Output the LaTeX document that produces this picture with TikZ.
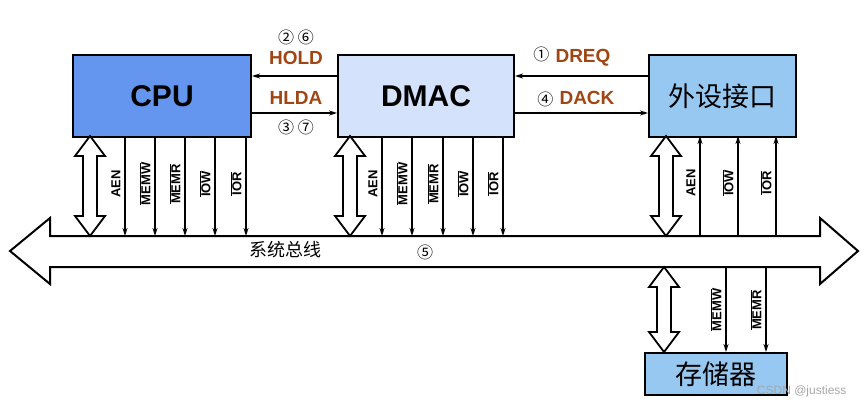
\documentclass[tikz,border=0pt]{standalone}
\usepackage{fontspec}
\setmainfont{Liberation Sans}
\newfontfamily\cjk{Noto Sans CJK SC}
\usetikzlibrary{arrows.meta}
\definecolor{cpuc}{RGB}{100,150,240}
\definecolor{dmac}{RGB}{212,226,252}
\definecolor{perc}{RGB}{150,200,242}
\definecolor{brn}{RGB}{160,70,20}
\newcommand{\dblarrow}[3]{%
 \draw[line width=1.8pt,fill=white,line join=miter] (#1,#2) -- (#1+15,#2+20) -- (#1+7,#2+20) -- (#1+7,#3-20) -- (#1+15,#3-20) -- (#1,#3) -- (#1-15,#3-20) -- (#1-7,#3-20) -- (#1-7,#2+20) -- (#1-15,#2+20) -- cycle;}
\begin{document}
\begin{tikzpicture}[x=1pt,y=-1pt,
 box/.style={draw,line width=2pt,anchor=north west,inner sep=0pt},
 sig/.style={line width=1.5pt,-{Stealth[length=8pt,width=5pt]}},
 sl/.style={rotate=90,font=\bfseries\fontsize{13}{13}\selectfont,anchor=south},
 bl/.style={text=brn,font=\bfseries\fontsize{19}{19}\selectfont},
 num/.style={font=\cjk\fontsize{16}{16}\selectfont}]
\useasboundingbox (0,0) rectangle (864,409);
\node[box,fill=cpuc,minimum width=178pt,minimum height=82pt,font=\bfseries\fontsize{30}{30}\selectfont] (cpu) at (72,54) {CPU};
\node[box,fill=dmac,minimum width=176pt,minimum height=82pt,font=\bfseries\fontsize{30}{30}\selectfont] (dmac) at (337,54) {DMAC};
\node[box,fill=perc,minimum width=147pt,minimum height=82pt,font=\cjk\fontsize{27}{27}\selectfont] (per) at (648,54) {外设接口};
\node[box,fill=perc,minimum width=142pt,minimum height=42pt,font=\cjk\fontsize{27}{27}\selectfont] (mem) at (644,352) {存储器};
% bus
\draw[line width=2pt,fill=white] (10,251) -- (50,218) -- (50,236) -- (820,236) -- (820,218) -- (858,251) -- (820,284) -- (820,267) -- (50,267) -- (50,284) -- cycle;
\node[font=\cjk\fontsize{18}{18}\selectfont] (bus) at (285,250) {系统总线};
\node[num] (n5) at (425,252) {⑤};
% handshake
\draw[sig] (dmac.west|-0,76) -- (cpu.east|-0,76);
\draw[sig] (cpu.east|-0,113) -- (dmac.west|-0,113);
\draw[sig] (per.west|-0,76) -- (dmac.east|-0,76);
\draw[sig] (dmac.east|-0,113) -- (per.west|-0,113);
\node[num] (n26) at (296,37) {② ⑥};
\node[bl] (hold) at (296,58) {HOLD};
\node[bl] (hlda) at (296,98) {HLDA};
\node[num] (n37) at (296,127) {③ ⑦};
\node[num,anchor=east] (n1) at (553,54) {①};
\node[bl,anchor=west] (dreq) at (552,58) {DREQ};
\node[num,anchor=east] (n4) at (557,99) {④};
\node[bl,anchor=west] (dack) at (556,98) {DACK};
% CPU lines
\dblarrow{90}{136}{236}
\foreach \x/\t in {125/AEN,155/$\overline{\mbox{MEMW}}$,185/$\overline{\mbox{MEMR}}$,215/$\overline{\mbox{IOW}}$,246/$\overline{\mbox{IOR}}$}{
 \draw[sig] (\x,136) -- (\x,236);
 \node[sl] at (\x-1,184) {\t};}
\dblarrow{350}{136}{236}
\foreach \x/\t in {382/AEN,412/$\overline{\mbox{MEMW}}$,443/$\overline{\mbox{MEMR}}$,473/$\overline{\mbox{IOW}}$,503/$\overline{\mbox{IOR}}$}{
 \draw[sig] (\x,136) -- (\x,236);
 \node[sl] at (\x-1,184) {\t};}
\dblarrow{666}{136}{236}
\foreach \x/\t in {700/AEN,738/$\overline{\mbox{IOW}}$,776/$\overline{\mbox{IOR}}$}{
 \draw[sig] (\x,236) -- (\x,136);
 \node[sl] at (\x-1,183) {\t};}
\dblarrow{664}{267}{352}
\foreach \x/\t in {726/$\overline{\mbox{MEMW}}$,766/$\overline{\mbox{MEMR}}$}{
 \draw[sig] (\x,267) -- (\x,352);
 \node[sl] at (\x-1,310) {\t};}
\node[text=gray!70,font=\fontsize{12}{12}\selectfont,anchor=east] (wm) at (850,391) {CSDN @justiess};
\end{tikzpicture}
\end{document}
